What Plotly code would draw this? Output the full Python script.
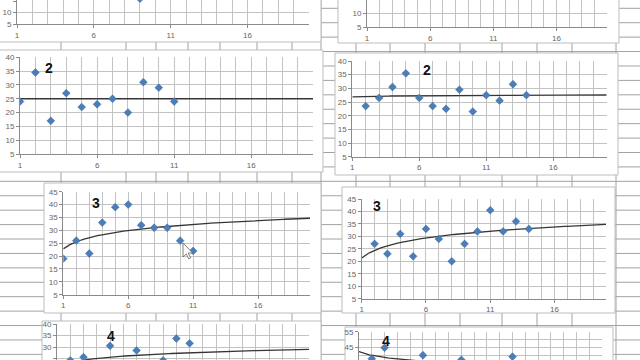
import numpy as np
import plotly.graph_objects as go

# ---------------- data ----------------
a_x = [9]
a_y = [16]

b_x = []
b_y = []

c_x = [1, 2, 3, 4, 5, 6, 7, 8, 9, 10, 11]
c_y = [24, 34.5, 17, 27, 22, 23, 25, 20, 31, 29, 24]
c_trend = (25.0, 0.0)          # a + b*ln(x)

d_x = [2, 3, 4, 5, 6, 7, 8, 9, 10, 11, 12, 13, 14]
d_y = [23.5, 26.5, 30.5, 35.5, 26.5, 23.5, 22.5, 29.5, 21.5, 27.5, 25.5, 31.5, 27.5]
d_trend = (26.9, 0.22)

e_x = [1, 2, 3, 4, 5, 6, 7, 8, 9, 10, 11]
e_y = [19, 26, 21, 33, 39, 40, 32, 31, 31, 26, 22]
e_trend = (22.8, 3.97)

f_x = [2, 3, 4, 5, 6, 7, 8, 9, 10, 11, 12, 13, 14]
f_y = [27, 23, 31, 22, 33, 29, 20, 27, 32, 40.5, 32, 36, 33]
f_trend = (21.3, 4.5)

g_x = [2, 3, 5, 7, 9, 10, 11]
g_y = [24.2, 25.6, 30.5, 28.5, 24.2, 33.7, 31.6]
g_trend = (21.7, 2.42)

h_x = [2, 3, 6, 9, 13]
h_y = [37.7, 44.7, 39.9, 37.0, 39.0]
h_trend = (42.2, -3.4)

chart_labels = ["2", "2", "3", "3", "4", "4"]
x_range = [1, 20]

# ---------------- layout helpers ----------------
W, H = 640, 360
def fx(p): return p / W
def fy(p): return 1 - p / H

GRID = "#c3c3c3"
AXIS = "#8a8a8a"
TICKFONT = dict(family="Liberation Sans, Arial, sans-serif", size=8, color="#666666")
MARK = "#4a7ebb"

charts = [
    dict(frame=(-5, -5, 321, 42), x1=17, x20=309, ylo=5, yhi=40, ylo_px=24, yhi_px=24 - 35 * 2.3,
         dt=5, xs=a_x, ys=a_y, trend=None, label=None),
    dict(frame=(338, -5, 619, 43), x1=367, x20=607, ylo=5, yhi=40, ylo_px=27, yhi_px=27 - 35 * 2.8,
         dt=5, xs=b_x, ys=b_y, trend=None, label=None),
    dict(frame=(-5, 50, 323, 172), x1=20, x20=313, ylo=5, yhi=40, ylo_px=154, yhi_px=57.3,
         dt=5, xs=c_x, ys=c_y, trend=c_trend, label=(chart_labels[0], 49, 68)),
    dict(frame=(335, 53, 618, 175), x1=352.3, x20=606.7, ylo=5, yhi=40, ylo_px=156.7, yhi_px=61,
         dt=5, xs=d_x, ys=d_y, trend=d_trend, label=(chart_labels[1], 427, 70)),
    dict(frame=(44, 183, 321, 313), x1=63.3, x20=310, ylo=5, yhi=45, ylo_px=294.7, yhi_px=191.7,
         dt=5, xs=e_x, ys=e_y, trend=e_trend, label=(chart_labels[2], 96, 203)),
    dict(frame=(342, 187, 615, 313), x1=361.7, x20=606, ylo=5, yhi=45, ylo_px=298.7, yhi_px=199,
         dt=5, xs=f_x, ys=f_y, trend=f_trend, label=(chart_labels[3], 377, 206)),
    dict(frame=(42, 321, 321, 370), x1=57, x20=309, ylo=5, yhi=40, ylo_px=324 + 35 * 2.3, yhi_px=324,
         dt=5, xs=g_x, ys=g_y, trend=g_trend, label=(chart_labels[4], 111, 336)),
    dict(frame=(345, 327, 613, 370), x1=359, x20=602, ylo=5, yhi=55, ylo_px=331.7 + 50 * 1.56, yhi_px=331.7,
         dt=10, xs=h_x, ys=h_y, trend=h_trend, label=(chart_labels[5], 386, 341)),
]

fig = go.Figure()
shapes = []
annotations = []

SHEET = "#a2a2a2"
for k in range(26):
    yp = 8.3 + 14.42 * k
    shapes.append(dict(type="line", xref="paper", yref="paper", x0=0, x1=1, y0=fy(yp), y1=fy(yp),
                       line=dict(color=SHEET, width=1), layer="below"))
for xp in [61, 126, 156, 188, 220, 257, 292, 321, 356, 390, 425, 460, 502, 537, 572, 616]:
    shapes.append(dict(type="line", xref="paper", yref="paper", x0=fx(xp), x1=fx(xp), y0=0, y1=1,
                       line=dict(color=SHEET, width=1), layer="below"))

layout_axes = {}
for i, c in enumerate(charts):
    n = "" if i == 0 else str(i + 1)
    x0, y0, x1, y1 = c["frame"]
    shapes.append(dict(type="rect", xref="paper", yref="paper", x0=fx(x0), x1=fx(x1), y0=fy(y1), y1=fy(y0),
                       fillcolor="white", line=dict(color="#bdbdbd", width=1), layer="below"))
    top_px = max(c["yhi_px"], 0)
    bot_px = min(c["ylo_px"], H)
    scale = (c["yhi"] - c["ylo"]) / (c["ylo_px"] - c["yhi_px"])
    r_lo = c["ylo"] + (c["ylo_px"] - bot_px) * scale
    r_hi = c["ylo"] + (c["ylo_px"] - top_px) * scale
    bottom_visible = c["ylo_px"] <= H
    layout_axes["xaxis" + n] = dict(
        domain=[fx(c["x1"]), fx(c["x20"])], range=x_range, anchor="y" + n, automargin=False,
        tickmode="linear", tick0=1, dtick=5, showgrid=True, gridcolor=GRID, gridwidth=1,
        minor=dict(tick0=1, dtick=1, showgrid=True, gridcolor=GRID, gridwidth=1),
        zeroline=False, showline=bottom_visible, linecolor=AXIS, linewidth=1,
        ticks="outside" if bottom_visible else "", ticklen=3, tickcolor=AXIS,
        showticklabels=bottom_visible, tickfont=TICKFONT, fixedrange=True)
    ymin_tick = c["ylo"]
    layout_axes["yaxis" + n] = dict(
        domain=[fy(bot_px), fy(top_px)], range=[r_lo, r_hi], anchor="x" + n, automargin=False,
        tickmode="linear", tick0=ymin_tick, dtick=c["dt"], showgrid=True, gridcolor=GRID, gridwidth=1,
        minor=dict(tick0=ymin_tick, dtick=5, showgrid=True, gridcolor=GRID, gridwidth=1),
        zeroline=False, showline=True, linecolor=AXIS, linewidth=1,
        ticks="outside", ticklen=3, tickcolor=AXIS, tickfont=TICKFONT, fixedrange=True)

    if c["trend"] is not None:
        ta, tb = c["trend"]
        tx = np.linspace(x_range[0], x_range[1], 120)
        ty = ta + tb * np.log(tx)
        fig.add_trace(go.Scatter(x=tx, y=ty, mode="lines", xaxis="x" + n, yaxis="y" + n,
                                 line=dict(color="#363636", width=1.3), hoverinfo="skip",
                                 showlegend=False))
    # always add the marker trace (even if empty) so every subplot gets drawn
    fig.add_trace(go.Scatter(x=c["xs"], y=c["ys"], mode="markers", xaxis="x" + n, yaxis="y" + n,
                             marker=dict(symbol="diamond", size=6, color=MARK,
                                         line=dict(color="#3a6698", width=0.5)),
                             showlegend=False))
    if c["label"] is not None:
        t, lx, ly = c["label"]
        annotations.append(dict(text="<b>" + t + "</b>", xref="paper", yref="paper", x=fx(lx), y=fy(ly),
                                showarrow=False, xanchor="center", yanchor="middle",
                                font=dict(family="Liberation Sans, Arial, sans-serif", size=14, color="#111111")))

cur = [(183, 243), (183, 257), (186.3, 253.8), (188.6, 258.8), (190.6, 258), (188.3, 253), (192.6, 253)]
path = "M " + " L ".join(f"{fx(px)},{fy(py)}" for px, py in cur) + " Z"
shapes.append(dict(type="path", xref="paper", yref="paper", path=path, fillcolor="white",
                   line=dict(color="#606060", width=0.8), layer="above"))

fig.update_layout(width=W, height=H, margin=dict(l=0, r=0, t=0, b=0, autoexpand=False),
                  paper_bgcolor="white", plot_bgcolor="rgba(0,0,0,0)",
                  shapes=shapes, annotations=annotations, showlegend=False, **layout_axes)

fig.write_html("out.html", config={"displayModeBar": False},
               post_script="document.body.style.margin='0';document.body.style.overflow='hidden';")
